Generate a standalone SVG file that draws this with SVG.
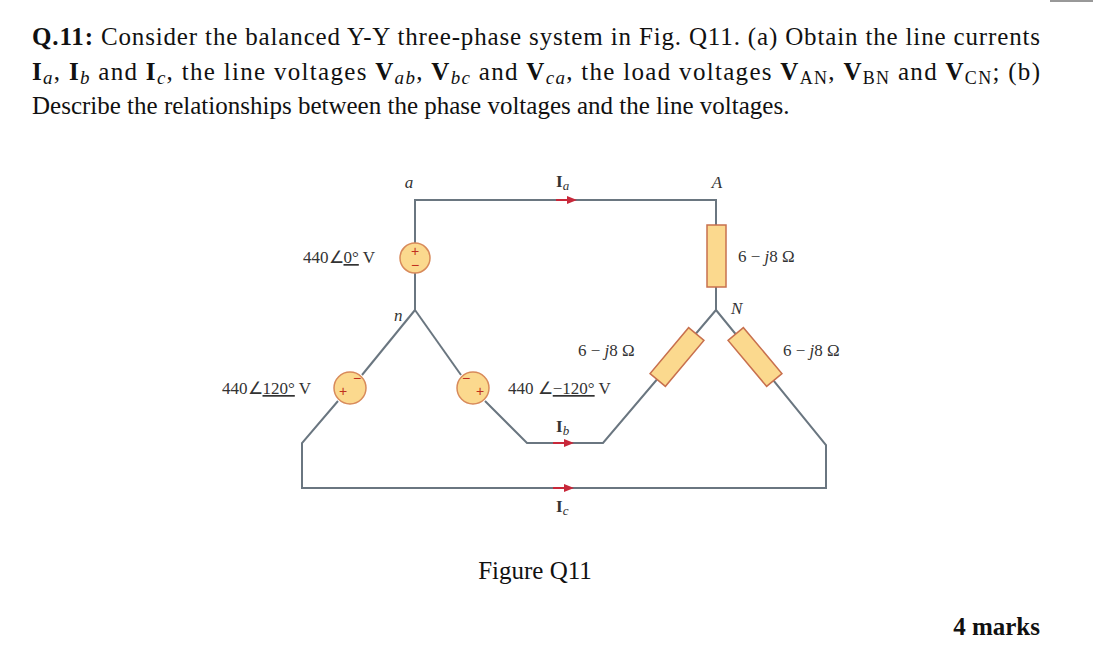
<svg xmlns="http://www.w3.org/2000/svg" width="1093" height="659" viewBox="0 0 1093 659">
<style>
.q{font-family:"Liberation Serif",serif;font-size:25px;fill:#111}
.l{font-family:"Liberation Serif",serif;font-size:17px;fill:#333}
.i{font-style:italic}
.w{fill:none;stroke:#6a7680;stroke-width:2}
.src{fill:#fbd98e;stroke:#d88a5a;stroke-width:1.5}
.res{fill:#fbd98e;stroke:#c8704e;stroke-width:1.5}
.pm{font-family:"Liberation Sans",sans-serif;font-size:14px;fill:#c03020}
</style>
<defs><marker id="ar" viewBox="0 0 10 10" refX="5" refY="5" markerWidth="12" markerHeight="10" orient="auto" markerUnits="userSpaceOnUse"><path d="M0,1 L10,5 L0,9 z" fill="#c8283a"/></marker></defs>
<rect width="1093" height="659" fill="#fff"/>
<line x1="1050" y1="1" x2="1093" y2="1" stroke="#333"/>
<text class="q" x="32" y="45" textLength="1008" lengthAdjust="spacing"><tspan font-weight="bold">Q.11:</tspan> Consider the balanced Y-Y three-phase system in Fig. Q11. (a) Obtain the line currents</text>
<text class="q" x="32" y="80" textLength="1008" lengthAdjust="spacing"><tspan font-weight="bold">I</tspan><tspan class="i" font-size="19" dy="4">a</tspan><tspan dy="-4">, </tspan><tspan font-weight="bold">I</tspan><tspan class="i" font-size="19" dy="4">b</tspan><tspan dy="-4"> and </tspan><tspan font-weight="bold">I</tspan><tspan class="i" font-size="19" dy="4">c</tspan><tspan dy="-4">, the line voltages  </tspan><tspan font-weight="bold">V</tspan><tspan class="i" font-size="19" dy="4">ab</tspan><tspan dy="-4">, </tspan><tspan font-weight="bold">V</tspan><tspan class="i" font-size="19" dy="4">bc</tspan><tspan dy="-4"> and </tspan><tspan font-weight="bold">V</tspan><tspan class="i" font-size="19" dy="4">ca</tspan><tspan dy="-4">, the load voltages </tspan><tspan font-weight="bold">V</tspan><tspan font-size="18" dy="4">AN</tspan><tspan dy="-4">, </tspan><tspan font-weight="bold">V</tspan><tspan font-size="18" dy="4">BN</tspan><tspan dy="-4"> and </tspan><tspan font-weight="bold">V</tspan><tspan font-size="18" dy="4">CN</tspan><tspan dy="-4">; (b)</tspan></text>
<text class="q" x="32" y="114">Describe the relationships between the phase voltages and the line voltages.</text>

<g id="connectors">
<polyline class="w" points="415,243 415,200 716,200 716,225"/>
<line class="w" x1="716" y1="287" x2="716" y2="310"/>
<line class="w" x1="415" y1="273" x2="415" y2="310"/>
<polyline class="w" points="415,310 362,375"/>
<polyline class="w" points="338,401 302,443 302,488 826,488 826,445 716,310"/>
<polyline class="w" points="415,310 461,375"/>
<polyline class="w" points="485,401 527,443 603,443 716,310"/>
<line x1="556" y1="200" x2="572" y2="200" stroke="#c8283a" stroke-width="2" marker-end="url(#ar)"/>
<line x1="553" y1="443" x2="569" y2="443" stroke="#c8283a" stroke-width="2" marker-end="url(#ar)"/>
<line x1="553" y1="488" x2="569" y2="488" stroke="#c8283a" stroke-width="2" marker-end="url(#ar)"/>
</g>

<g id="src-a"><circle class="src" cx="415" cy="258" r="15"/><text class="pm" x="415" y="256" text-anchor="middle">+</text><text class="pm" x="415" y="270" text-anchor="middle">−</text></g>
<g id="src-c"><circle class="src" cx="350" cy="388" r="16"/><text class="pm" x="343" y="396" text-anchor="middle">+</text><text class="pm" x="357" y="383" text-anchor="middle">−</text></g>
<g id="src-b"><circle class="src" cx="473" cy="388" r="16"/><text class="pm" x="480" y="396" text-anchor="middle">+</text><text class="pm" x="466" y="383" text-anchor="middle">−</text></g>
<g id="load-a"><rect class="res" x="707" y="225" width="19" height="62"/></g>
<g id="load-b"><rect class="res" x="-10" y="-30" width="20" height="60" transform="translate(677,357) rotate(40)"/></g>
<g id="load-c"><rect class="res" x="-10" y="-30" width="20" height="60" transform="translate(755,357) rotate(-40)"/></g>

<g id="labels">
<text class="l i" x="409" y="188" text-anchor="middle">a</text>
<text class="l" x="556" y="187"><tspan font-weight="bold">I</tspan><tspan class="i" font-size="13" dy="3">a</tspan></text>
<text class="l i" x="717" y="188" text-anchor="middle">A</text>
<text class="l" x="738" y="262">6 − <tspan class="i">j</tspan>8 Ω</text>
<text class="l i" x="731" y="314">N</text>
<text class="l i" x="394" y="321">n</text>
<text class="l" x="303" y="263">440∠<tspan text-decoration="underline">0°</tspan> V</text>
<text class="l" x="578" y="356">6 − <tspan class="i">j</tspan>8 Ω</text>
<text class="l" x="783" y="356">6 − <tspan class="i">j</tspan>8 Ω</text>
<text class="l" x="222" y="394">440∠<tspan text-decoration="underline">120°</tspan> V</text>
<text class="l" x="508" y="394">440 ∠<tspan text-decoration="underline">−120°</tspan> V</text>
<text class="l" x="556" y="432"><tspan font-weight="bold">I</tspan><tspan class="i" font-size="13" dy="3">b</tspan></text>
<text class="l" x="556" y="512"><tspan font-weight="bold">I</tspan><tspan class="i" font-size="13" dy="3">c</tspan></text>
<text class="q" x="535" y="579" text-anchor="middle">Figure Q11</text>
<text class="q" x="1040" y="635" text-anchor="end" font-weight="bold">4 marks</text>
</g>
</svg>
